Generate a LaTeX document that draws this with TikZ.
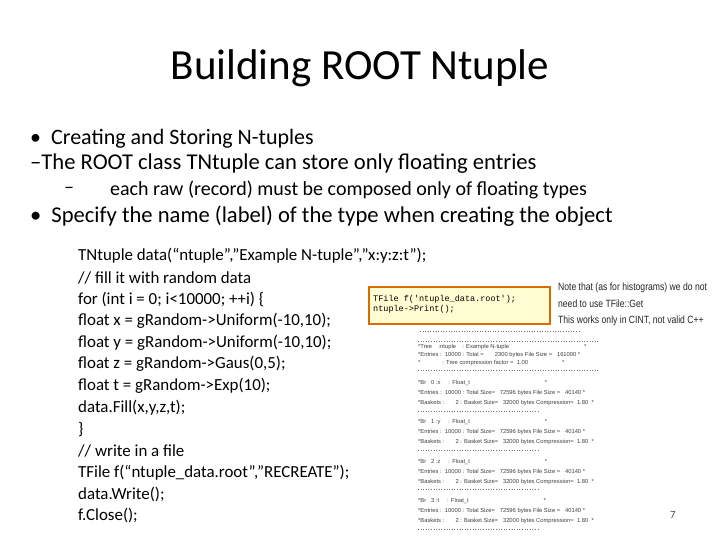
\documentclass[tikz,border=0pt]{standalone}
\usepackage{fontspec}
\setmainfont{Carlito}
\newfontfamily\arialf{Liberation Sans}
\newfontfamily\monof{Liberation Mono}
\begin{document}
\begin{tikzpicture}[x=1pt,y=-1pt,
  txt/.style={anchor=west,inner sep=0pt,font=\fontsize{22.6}{26}\selectfont},
  code/.style={anchor=west,inner sep=0pt,font=\fontsize{16.9}{19}\selectfont},
  tiny/.style={anchor=west,inner sep=0pt,font=\arialf\fontsize{5.8}{6}\selectfont,text=black!75},
  sep/.style={black!55,dotted,line width=0.6pt}]
\useasboundingbox[fill=white] (0,0) rectangle (720,540);
\node[inner sep=0pt,font=\fontsize{43}{48}\selectfont] (title) at (360,68) {Building ROOT Ntuple};
\node[txt,font=\fontsize{22}{26}\selectfont] (b1) at (30,139) {\textbullet\hspace{10pt}Creating and Storing N-tuples};
\node[txt] (b2) at (30,164) {--The ROOT class TNtuple can store only floating entries};
\node[txt,font=\fontsize{20}{22}\selectfont] (b3d) at (64,190) {--};
\node[txt,font=\fontsize{20}{22}\selectfont] (b3) at (110,190) {each raw (record) must be composed only of floating types};
\node[txt] (b4) at (30,216) {\textbullet\hspace{10pt}Specify the name (label) of the type when creating the object};
\foreach \t [count=\i from 0] in {
 {TNtuple data(“ntuple”,”Example N-tuple”,”x:y:z:t”);},
 {// fill it with random data},
 {for (int i = 0; i<10000; ++i) \{},
 {float x = gRandom->Uniform(-10,10);},
 {float y = gRandom->Uniform(-10,10);},
 {float z = gRandom->Gaus(0,5);},
 {float t = gRandom->Exp(10);},
 {data.Fill(x,y,z,t);},
 {\}},
 {// write in a file},
 {TFile f(“ntuple\_data.root”,”RECREATE”);},
 {data.Write();},
 {f.Close();}}
 \node[code] (c\i) at (78,{256+21.65*\i}) {\t};
\node[draw=orange!85!black,line width=1.5pt,fill=yellow!18,minimum width=181pt,minimum height=37pt,anchor=north west] (box) at (368,286) {};
\node[anchor=west,inner sep=0pt,align=left,font=\monof\fontsize{8.5}{10.5}\selectfont] (boxt) at (373,304.5) {TFile f('ntuple\_data.root');\\ntuple->Print();};
\node[anchor=north west,inner sep=0pt,align=left,transform shape,xscale=0.82,font=\arialf\fontsize{10.5}{16.5}\selectfont,text=black!85] (note) at (558,283) {Note that (as for histograms) we do not\\need to use TFile::Get\\This works only in CINT, not valid C++};
\coordinate (s0a) at (420,331); \coordinate (s0b) at (580,331);
\draw[sep] (s0a) -- (s0b);
\draw[sep] (418,341) -- (598,341);
\node[tiny] (p1) at (418,347) {*Tree\ \ \ \ :ntuple\ \ \ \ : Example N-tuple\hspace{75pt}*};
\node[tiny] (p2) at (418,355) {*Entries :\ \ 10000 : Total =\ \ \ \ \ \ \ 2300 bytes\ File Size =\ \ \ 161000 *};
\node[tiny] (p3) at (418,363) {*\hspace{22pt}: Tree compression factor =\ \ 1.00\hspace{34pt}*};
\draw[sep] (418,370) -- (598,370);
\foreach \n/\v [count=\k from 0] in {0/x,1/y,2/z,3/t}{
 \pgfmathsetmacro\yb{383+39.3*\k}
 \node[tiny] at (418,\yb) {*Br\ \ \ \n\ :\v\ \ \ \ \ : Float\_t\hspace{75pt}*};
 \node[tiny] at (418,\yb+10) {*Entries :\ \ 10000 : Total\ Size=\ \ \ 72596 bytes\ File Size =\ \ \ 40140 *};
 \node[tiny] at (418,\yb+20) {*Baskets :\ \ \ \ \ \ \ 2 : Basket Size=\ \ \ 32000 bytes\ Compression=\ \ 1.80\ \ *};
 \draw[sep] (418,\yb+28) -- (540,\yb+28);
}
\node[inner sep=0pt,font=\fontsize{11}{12}\selectfont,text=black!70] (pg) at (673,515) {7};
\end{tikzpicture}
\end{document}
